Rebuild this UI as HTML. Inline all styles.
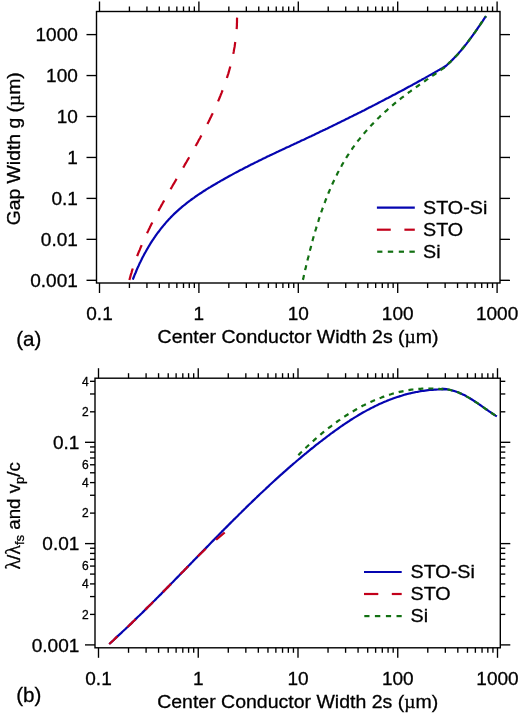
<!DOCTYPE html>
<html><head><meta charset="utf-8"><title>Figure</title>
<style>html,body{margin:0;padding:0;background:#fff;}svg{display:block;}
text{font-family:"Liberation Sans",Arial,sans-serif;fill:#000;stroke:#000;stroke-width:0.3px;}</style></head>
<body><svg width="520" height="713" viewBox="0 0 520 713">
<rect width="520" height="713" fill="#fff"/>
<rect x="96.5" y="11.5" width="403.5" height="271.5" fill="none" stroke="#000" stroke-width="1.4"/>
<line x1="99.5" y1="283" x2="99.5" y2="293" stroke="#000" stroke-width="1.35"/>
<line x1="99.5" y1="11.5" x2="99.5" y2="1.5" stroke="#000" stroke-width="1.35"/>
<line x1="129.42" y1="283" x2="129.42" y2="288" stroke="#000" stroke-width="1.35"/>
<line x1="129.42" y1="11.5" x2="129.42" y2="6.5" stroke="#000" stroke-width="1.35"/>
<line x1="146.93" y1="283" x2="146.93" y2="288" stroke="#000" stroke-width="1.35"/>
<line x1="146.93" y1="11.5" x2="146.93" y2="6.5" stroke="#000" stroke-width="1.35"/>
<line x1="159.34" y1="283" x2="159.34" y2="288" stroke="#000" stroke-width="1.35"/>
<line x1="159.34" y1="11.5" x2="159.34" y2="6.5" stroke="#000" stroke-width="1.35"/>
<line x1="168.98" y1="283" x2="168.98" y2="288" stroke="#000" stroke-width="1.35"/>
<line x1="168.98" y1="11.5" x2="168.98" y2="6.5" stroke="#000" stroke-width="1.35"/>
<line x1="176.85" y1="283" x2="176.85" y2="288" stroke="#000" stroke-width="1.35"/>
<line x1="176.85" y1="11.5" x2="176.85" y2="6.5" stroke="#000" stroke-width="1.35"/>
<line x1="183.5" y1="283" x2="183.5" y2="288" stroke="#000" stroke-width="1.35"/>
<line x1="183.5" y1="11.5" x2="183.5" y2="6.5" stroke="#000" stroke-width="1.35"/>
<line x1="189.27" y1="283" x2="189.27" y2="288" stroke="#000" stroke-width="1.35"/>
<line x1="189.27" y1="11.5" x2="189.27" y2="6.5" stroke="#000" stroke-width="1.35"/>
<line x1="194.35" y1="283" x2="194.35" y2="288" stroke="#000" stroke-width="1.35"/>
<line x1="194.35" y1="11.5" x2="194.35" y2="6.5" stroke="#000" stroke-width="1.35"/>
<line x1="198.9" y1="283" x2="198.9" y2="293" stroke="#000" stroke-width="1.35"/>
<line x1="198.9" y1="11.5" x2="198.9" y2="1.5" stroke="#000" stroke-width="1.35"/>
<line x1="228.82" y1="283" x2="228.82" y2="288" stroke="#000" stroke-width="1.35"/>
<line x1="228.82" y1="11.5" x2="228.82" y2="6.5" stroke="#000" stroke-width="1.35"/>
<line x1="246.33" y1="283" x2="246.33" y2="288" stroke="#000" stroke-width="1.35"/>
<line x1="246.33" y1="11.5" x2="246.33" y2="6.5" stroke="#000" stroke-width="1.35"/>
<line x1="258.74" y1="283" x2="258.74" y2="288" stroke="#000" stroke-width="1.35"/>
<line x1="258.74" y1="11.5" x2="258.74" y2="6.5" stroke="#000" stroke-width="1.35"/>
<line x1="268.38" y1="283" x2="268.38" y2="288" stroke="#000" stroke-width="1.35"/>
<line x1="268.38" y1="11.5" x2="268.38" y2="6.5" stroke="#000" stroke-width="1.35"/>
<line x1="276.25" y1="283" x2="276.25" y2="288" stroke="#000" stroke-width="1.35"/>
<line x1="276.25" y1="11.5" x2="276.25" y2="6.5" stroke="#000" stroke-width="1.35"/>
<line x1="282.9" y1="283" x2="282.9" y2="288" stroke="#000" stroke-width="1.35"/>
<line x1="282.9" y1="11.5" x2="282.9" y2="6.5" stroke="#000" stroke-width="1.35"/>
<line x1="288.67" y1="283" x2="288.67" y2="288" stroke="#000" stroke-width="1.35"/>
<line x1="288.67" y1="11.5" x2="288.67" y2="6.5" stroke="#000" stroke-width="1.35"/>
<line x1="293.75" y1="283" x2="293.75" y2="288" stroke="#000" stroke-width="1.35"/>
<line x1="293.75" y1="11.5" x2="293.75" y2="6.5" stroke="#000" stroke-width="1.35"/>
<line x1="298.3" y1="283" x2="298.3" y2="293" stroke="#000" stroke-width="1.35"/>
<line x1="298.3" y1="11.5" x2="298.3" y2="1.5" stroke="#000" stroke-width="1.35"/>
<line x1="328.22" y1="283" x2="328.22" y2="288" stroke="#000" stroke-width="1.35"/>
<line x1="328.22" y1="11.5" x2="328.22" y2="6.5" stroke="#000" stroke-width="1.35"/>
<line x1="345.73" y1="283" x2="345.73" y2="288" stroke="#000" stroke-width="1.35"/>
<line x1="345.73" y1="11.5" x2="345.73" y2="6.5" stroke="#000" stroke-width="1.35"/>
<line x1="358.14" y1="283" x2="358.14" y2="288" stroke="#000" stroke-width="1.35"/>
<line x1="358.14" y1="11.5" x2="358.14" y2="6.5" stroke="#000" stroke-width="1.35"/>
<line x1="367.78" y1="283" x2="367.78" y2="288" stroke="#000" stroke-width="1.35"/>
<line x1="367.78" y1="11.5" x2="367.78" y2="6.5" stroke="#000" stroke-width="1.35"/>
<line x1="375.65" y1="283" x2="375.65" y2="288" stroke="#000" stroke-width="1.35"/>
<line x1="375.65" y1="11.5" x2="375.65" y2="6.5" stroke="#000" stroke-width="1.35"/>
<line x1="382.3" y1="283" x2="382.3" y2="288" stroke="#000" stroke-width="1.35"/>
<line x1="382.3" y1="11.5" x2="382.3" y2="6.5" stroke="#000" stroke-width="1.35"/>
<line x1="388.07" y1="283" x2="388.07" y2="288" stroke="#000" stroke-width="1.35"/>
<line x1="388.07" y1="11.5" x2="388.07" y2="6.5" stroke="#000" stroke-width="1.35"/>
<line x1="393.15" y1="283" x2="393.15" y2="288" stroke="#000" stroke-width="1.35"/>
<line x1="393.15" y1="11.5" x2="393.15" y2="6.5" stroke="#000" stroke-width="1.35"/>
<line x1="397.7" y1="283" x2="397.7" y2="293" stroke="#000" stroke-width="1.35"/>
<line x1="397.7" y1="11.5" x2="397.7" y2="1.5" stroke="#000" stroke-width="1.35"/>
<line x1="427.62" y1="283" x2="427.62" y2="288" stroke="#000" stroke-width="1.35"/>
<line x1="427.62" y1="11.5" x2="427.62" y2="6.5" stroke="#000" stroke-width="1.35"/>
<line x1="445.13" y1="283" x2="445.13" y2="288" stroke="#000" stroke-width="1.35"/>
<line x1="445.13" y1="11.5" x2="445.13" y2="6.5" stroke="#000" stroke-width="1.35"/>
<line x1="457.54" y1="283" x2="457.54" y2="288" stroke="#000" stroke-width="1.35"/>
<line x1="457.54" y1="11.5" x2="457.54" y2="6.5" stroke="#000" stroke-width="1.35"/>
<line x1="467.18" y1="283" x2="467.18" y2="288" stroke="#000" stroke-width="1.35"/>
<line x1="467.18" y1="11.5" x2="467.18" y2="6.5" stroke="#000" stroke-width="1.35"/>
<line x1="475.05" y1="283" x2="475.05" y2="288" stroke="#000" stroke-width="1.35"/>
<line x1="475.05" y1="11.5" x2="475.05" y2="6.5" stroke="#000" stroke-width="1.35"/>
<line x1="481.7" y1="283" x2="481.7" y2="288" stroke="#000" stroke-width="1.35"/>
<line x1="481.7" y1="11.5" x2="481.7" y2="6.5" stroke="#000" stroke-width="1.35"/>
<line x1="487.47" y1="283" x2="487.47" y2="288" stroke="#000" stroke-width="1.35"/>
<line x1="487.47" y1="11.5" x2="487.47" y2="6.5" stroke="#000" stroke-width="1.35"/>
<line x1="492.55" y1="283" x2="492.55" y2="288" stroke="#000" stroke-width="1.35"/>
<line x1="492.55" y1="11.5" x2="492.55" y2="6.5" stroke="#000" stroke-width="1.35"/>
<line x1="497.1" y1="283" x2="497.1" y2="293" stroke="#000" stroke-width="1.35"/>
<line x1="497.1" y1="11.5" x2="497.1" y2="1.5" stroke="#000" stroke-width="1.35"/>
<text x="99.5" y="320.2" font-size="19" text-anchor="middle">0.1</text>
<text x="198.9" y="320.2" font-size="19" text-anchor="middle">1</text>
<text x="298.3" y="320.2" font-size="19" text-anchor="middle">10</text>
<text x="397.7" y="320.2" font-size="19" text-anchor="middle">100</text>
<text x="497.1" y="320.2" font-size="19" text-anchor="middle">1000</text>
<line x1="86.5" y1="280.3" x2="96.5" y2="280.3" stroke="#000" stroke-width="1.35"/>
<line x1="500" y1="280.3" x2="510" y2="280.3" stroke="#000" stroke-width="1.35"/>
<line x1="86.5" y1="239.35" x2="96.5" y2="239.35" stroke="#000" stroke-width="1.35"/>
<line x1="500" y1="239.35" x2="510" y2="239.35" stroke="#000" stroke-width="1.35"/>
<line x1="86.5" y1="198.4" x2="96.5" y2="198.4" stroke="#000" stroke-width="1.35"/>
<line x1="500" y1="198.4" x2="510" y2="198.4" stroke="#000" stroke-width="1.35"/>
<line x1="86.5" y1="157.45" x2="96.5" y2="157.45" stroke="#000" stroke-width="1.35"/>
<line x1="500" y1="157.45" x2="510" y2="157.45" stroke="#000" stroke-width="1.35"/>
<line x1="86.5" y1="116.5" x2="96.5" y2="116.5" stroke="#000" stroke-width="1.35"/>
<line x1="500" y1="116.5" x2="510" y2="116.5" stroke="#000" stroke-width="1.35"/>
<line x1="86.5" y1="75.55" x2="96.5" y2="75.55" stroke="#000" stroke-width="1.35"/>
<line x1="500" y1="75.55" x2="510" y2="75.55" stroke="#000" stroke-width="1.35"/>
<line x1="86.5" y1="34.6" x2="96.5" y2="34.6" stroke="#000" stroke-width="1.35"/>
<line x1="500" y1="34.6" x2="510" y2="34.6" stroke="#000" stroke-width="1.35"/>
<text x="77.8" y="286.9" font-size="19" text-anchor="end">0.001</text>
<text x="77.8" y="245.95" font-size="19" text-anchor="end">0.01</text>
<text x="77.8" y="205" font-size="19" text-anchor="end">0.1</text>
<text x="77.8" y="164.05" font-size="19" text-anchor="end">1</text>
<text x="77.8" y="123.1" font-size="19" text-anchor="end">10</text>
<text x="77.8" y="82.15" font-size="19" text-anchor="end">100</text>
<text x="77.8" y="41.2" font-size="19" text-anchor="end">1000</text>
<path d="M132.8,279.6 L133.3,278.2 L133.9,276.8 L134.4,275.4 L135.0,274.0 L135.6,272.7 L136.2,271.3 L136.7,269.9 L137.3,268.5 L138.0,267.1 L138.6,265.8 L139.2,264.4 L139.8,263.0 L140.5,261.7 L141.2,260.3 L141.8,259.0 L142.5,257.6 L143.2,256.3 L143.9,254.9 L144.6,253.6 L145.4,252.3 L146.1,251.0 L146.8,249.7 L147.6,248.4 L148.4,247.0 L149.1,245.8 L149.9,244.5 L150.7,243.2 L151.5,241.9 L152.3,240.6 L153.2,239.4 L154.0,238.1 L154.9,236.9 L155.7,235.7 L156.6,234.4 L157.5,233.2 L158.4,232.0 L159.3,230.8 L160.2,229.6 L161.1,228.4 L162.1,227.2 L163.0,226.1 L164.0,224.9 L165.0,223.8 L165.9,222.6 L166.9,221.5 L167.9,220.4 L168.9,219.3 L170.0,218.2 L171.0,217.1 L172.1,216.0 L173.1,215.0 L174.2,213.9 L175.3,212.9 L176.4,211.9 L177.5,210.9 L178.6,209.9 L179.7,208.9 L180.9,207.9 L182.0,206.9 L183.2,206.0 L184.3,205.0 L185.5,204.1 L186.7,203.1 L187.9,202.2 L189.0,201.3 L190.3,200.4 L191.5,199.5 L192.7,198.6 L193.9,197.8 L195.1,196.9 L196.4,196.0 L197.6,195.2 L198.8,194.3 L200.1,193.5 L201.4,192.7 L202.6,191.9 L203.9,191.0 L205.2,190.2 L206.4,189.4 L207.7,188.6 L209.0,187.8 L210.3,187.1 L211.6,186.3 L212.9,185.5 L214.2,184.7 L215.5,184.0 L216.8,183.2 L218.1,182.4 L219.4,181.7 L220.7,180.9 L222.0,180.2 L223.3,179.5 L224.6,178.7 L225.9,178.0 L227.3,177.3 L228.6,176.5 L229.9,175.8 L231.2,175.1 L232.5,174.4 L233.9,173.6 L235.2,172.9 L236.5,172.2 L237.9,171.5 L239.2,170.8 L240.5,170.1 L241.9,169.4 L243.2,168.7 L244.5,168.0 L245.9,167.3 L247.2,166.7 L248.5,166.0 L249.9,165.3 L251.2,164.6 L252.6,163.9 L253.9,163.3 L255.3,162.6 L256.6,161.9 L258.0,161.3 L259.3,160.6 L260.7,159.9 L262.0,159.3 L263.4,158.6 L264.7,158.0 L266.1,157.3 L267.4,156.6 L268.8,156.0 L270.2,155.3 L271.5,154.7 L272.9,154.1 L274.2,153.4 L275.6,152.8 L277.0,152.1 L278.3,151.5 L279.7,150.8 L281.0,150.2 L282.4,149.6 L283.8,148.9 L285.1,148.3 L286.5,147.6 L287.9,147.0 L289.2,146.4 L290.6,145.7 L292.0,145.1 L293.3,144.5 L294.7,143.8 L296.1,143.2 L297.4,142.5 L298.8,141.9 L300.2,141.3 L301.5,140.6 L302.9,140.0 L304.2,139.4 L305.6,138.7 L307.0,138.1 L308.3,137.4 L309.7,136.8 L311.1,136.2 L312.4,135.5 L313.8,134.9 L315.1,134.2 L316.5,133.6 L317.9,132.9 L319.2,132.3 L320.6,131.6 L321.9,131.0 L323.3,130.3 L324.7,129.7 L326.0,129.0 L327.4,128.4 L328.7,127.7 L330.1,127.1 L331.4,126.4 L332.8,125.7 L334.2,125.1 L335.5,124.4 L336.9,123.8 L338.2,123.1 L339.6,122.4 L340.9,121.8 L342.3,121.1 L343.6,120.5 L345.0,119.8 L346.3,119.1 L347.7,118.5 L349.0,117.8 L350.4,117.1 L351.7,116.4 L353.1,115.8 L354.4,115.1 L355.8,114.4 L357.1,113.8 L358.5,113.1 L359.8,112.4 L361.2,111.7 L362.5,111.0 L363.9,110.4 L365.2,109.7 L366.5,109.0 L367.9,108.3 L369.2,107.6 L370.6,106.9 L371.9,106.3 L373.3,105.6 L374.6,104.9 L375.9,104.2 L377.3,103.5 L378.6,102.8 L380.0,102.1 L381.3,101.4 L382.6,100.7 L384.0,100.0 L385.3,99.3 L386.6,98.6 L388.0,97.9 L389.3,97.2 L390.7,96.5 L392.0,95.8 L393.3,95.1 L394.7,94.4 L396.0,93.7 L397.3,93.0 L398.6,92.3 L400.0,91.6 L401.3,90.9 L402.6,90.2 L404.0,89.5 L405.3,88.7 L406.6,88.0 L407.9,87.3 L409.3,86.6 L410.6,85.9 L411.9,85.2 L413.2,84.4 L414.5,83.7 L415.9,83.0 L417.2,82.3 L418.5,81.5 L419.8,80.8 L421.1,80.1 L422.5,79.3 L423.8,78.6 L425.1,77.9 L426.4,77.1 L427.7,76.4 L429.0,75.6 L430.3,74.9 L431.7,74.2 L433.0,73.4 L434.3,72.7 L435.6,71.9 L436.9,71.2 L438.2,70.4 L439.5,69.7 L440.8,68.9 L442.1,68.2 L443.4,67.4 L444.7,66.6 L444.8,66.8 L446.0,65.8 L447.2,64.8 L448.3,63.7 L449.5,62.6 L450.6,61.6 L451.7,60.5 L452.8,59.4 L453.9,58.3 L455.0,57.1 L456.1,56.0 L457.1,54.9 L458.2,53.7 L459.2,52.5 L460.2,51.4 L461.2,50.2 L462.2,49.0 L463.2,47.8 L464.2,46.6 L465.2,45.3 L466.2,44.1 L467.1,42.9 L468.1,41.7 L469.0,40.4 L469.9,39.2 L470.9,37.9 L471.8,36.6 L472.7,35.4 L473.6,34.1 L474.5,32.8 L475.4,31.6 L476.3,30.3 L477.2,29.0 L478.1,27.7 L479.0,26.4 L479.9,25.1 L480.7,23.8 L481.6,22.5 L482.5,21.3 L483.4,20.0 L484.2,18.7 L485.1,17.4 L486.0,16.1" fill="none" stroke="#0505b0" stroke-width="2.2"/>
<path d="M129.4,280.0 L129.8,278.5 L130.2,277.1 L130.6,275.6 L131.0,274.2 L131.5,272.8 L131.9,271.3 L132.3,269.9 L132.8,268.5 L133.3,267.0 L133.8,265.6 L134.2,264.2 L134.7,262.8 L135.2,261.4 L135.8,259.9 L136.3,258.5 L136.8,257.1 L137.3,255.7 L137.9,254.3 L138.4,252.9 L139.0,251.5 L139.6,250.1 L140.1,248.8 L140.7,247.4 L141.3,246.0 L141.9,244.6 L142.5,243.2 L143.1,241.8 L143.7,240.5 L144.3,239.1 L144.9,237.7 L145.6,236.4 L146.2,235.0 L146.9,233.6 L147.5,232.3 L148.2,230.9 L148.8,229.5 L149.5,228.2 L150.1,226.8 L150.8,225.5 L151.5,224.1 L152.2,222.8 L152.9,221.4 L153.6,220.1 L154.3,218.7 L155.0,217.4 L155.7,216.1 L156.4,214.7 L157.1,213.4 L157.8,212.0 L158.5,210.7 L159.2,209.4 L160.0,208.0 L160.7,206.7 L161.4,205.4 L162.2,204.0 L162.9,202.7 L163.7,201.4 L164.4,200.1 L165.1,198.7 L165.9,197.4 L166.6,196.1 L167.4,194.8 L168.2,193.4 L168.9,192.1 L169.7,190.8 L170.4,189.5 L171.2,188.2 L172.0,186.8 L172.7,185.5 L173.5,184.2 L174.3,182.9 L175.0,181.6 L175.8,180.2 L176.6,178.9 L177.3,177.6 L178.1,176.3 L178.9,175.0 L179.6,173.7 L180.4,172.3 L181.2,171.0 L182.0,169.7 L182.7,168.4 L183.5,167.1 L184.3,165.8 L185.0,164.4 L185.8,163.1 L186.6,161.8 L187.3,160.5 L188.1,159.2 L188.9,157.8 L189.6,156.5 L190.4,155.2 L191.1,153.9 L191.9,152.6 L192.7,151.2 L193.4,149.9 L194.2,148.6 L194.9,147.3 L195.6,145.9 L196.4,144.6 L197.1,143.3 L197.9,142.0 L198.6,140.6 L199.3,139.3 L200.1,138.0 L200.8,136.6 L201.5,135.3 L202.2,134.0 L202.9,132.6 L203.6,131.3 L204.4,130.0 L205.1,128.6 L205.8,127.3 L206.4,125.9 L207.1,124.6 L207.8,123.2 L208.5,121.9 L209.2,120.6 L209.8,119.2 L210.5,117.8 L211.2,116.5 L211.8,115.1 L212.5,113.8 L213.1,112.4 L213.8,111.1 L214.4,109.7 L215.0,108.3 L215.6,107.0 L216.2,105.6 L216.9,104.2 L217.5,102.8 L218.0,101.5 L218.6,100.1 L219.2,98.7 L219.8,97.3 L220.4,95.9 L220.9,94.5 L221.5,93.1 L222.0,91.7 L222.6,90.3 L223.1,88.9 L223.6,87.5 L224.1,86.1 L224.6,84.7 L225.1,83.3 L225.6,81.9 L226.1,80.5 L226.6,79.1 L227.0,77.6 L227.5,76.2 L227.9,74.8 L228.4,73.3 L228.8,71.9 L229.2,70.5 L229.6,69.0 L230.0,67.6 L230.4,66.1 L230.8,64.7 L231.2,63.2 L231.5,61.7 L231.9,60.3 L232.2,58.8 L232.5,57.3 L232.9,55.9 L233.2,54.4 L233.5,52.9 L233.8,51.4 L234.0,49.9 L234.3,48.4 L234.6,46.9 L234.8,45.4 L235.0,43.9 L235.2,42.4 L235.5,40.9 L235.6,39.4 L235.8,37.9 L236.0,36.3 L236.2,34.8 L236.3,33.3 L236.4,31.7 L236.6,30.2 L236.7,28.6 L236.8,27.1 L236.9,25.5 L236.9,23.9 L237.0,22.4 L237.0,20.8 L237.0,19.2 L237.1,17.6" fill="none" stroke="#c2001a" stroke-width="2.2" stroke-dasharray="12 13"/>
<path d="M302.9,279.9 L303.3,278.4 L303.6,277.0 L303.9,275.6 L304.2,274.2 L304.6,272.7 L304.9,271.3 L305.2,269.8 L305.6,268.4 L305.9,267.0 L306.2,265.5 L306.6,264.1 L306.9,262.6 L307.3,261.2 L307.6,259.7 L308.0,258.3 L308.4,256.8 L308.7,255.4 L309.1,253.9 L309.4,252.4 L309.8,251.0 L310.2,249.5 L310.6,248.1 L311.0,246.6 L311.3,245.1 L311.7,243.7 L312.1,242.2 L312.5,240.8 L312.9,239.3 L313.3,237.8 L313.7,236.4 L314.2,234.9 L314.6,233.5 L315.0,232.0 L315.4,230.5 L315.9,229.1 L316.3,227.6 L316.7,226.2 L317.2,224.7 L317.6,223.3 L318.1,221.8 L318.6,220.4 L319.0,218.9 L319.5,217.5 L320.0,216.0 L320.5,214.6 L320.9,213.1 L321.4,211.7 L321.9,210.3 L322.4,208.8 L323.0,207.4 L323.5,205.9 L324.0,204.5 L324.5,203.1 L325.1,201.7 L325.6,200.2 L326.2,198.8 L326.7,197.4 L327.3,196.0 L327.8,194.6 L328.4,193.2 L329.0,191.8 L329.6,190.4 L330.2,189.0 L330.8,187.6 L331.4,186.2 L332.0,184.8 L332.6,183.5 L333.3,182.1 L333.9,180.7 L334.6,179.3 L335.2,178.0 L335.9,176.6 L336.6,175.3 L337.2,173.9 L337.9,172.6 L338.6,171.3 L339.3,169.9 L340.0,168.6 L340.8,167.3 L341.5,166.0 L342.2,164.6 L343.0,163.3 L343.7,162.0 L344.5,160.7 L345.3,159.5 L346.0,158.2 L346.8,156.9 L347.6,155.6 L348.4,154.4 L349.2,153.1 L350.1,151.9 L350.9,150.6 L351.8,149.4 L352.6,148.1 L353.5,146.9 L354.4,145.7 L355.2,144.5 L356.1,143.3 L357.0,142.1 L357.9,140.9 L358.9,139.7 L359.8,138.6 L360.7,137.4 L361.7,136.2 L362.6,135.1 L363.6,133.9 L364.6,132.8 L365.6,131.6 L366.6,130.5 L367.5,129.4 L368.6,128.3 L369.6,127.2 L370.6,126.1 L371.6,125.0 L372.7,123.9 L373.7,122.8 L374.8,121.7 L375.8,120.7 L376.9,119.6 L377.9,118.5 L379.0,117.5 L380.1,116.4 L381.2,115.4 L382.3,114.4 L383.4,113.3 L384.5,112.3 L385.6,111.3 L386.8,110.3 L387.9,109.3 L389.0,108.3 L390.2,107.3 L391.3,106.3 L392.5,105.3 L393.6,104.4 L394.8,103.4 L396.0,102.4 L397.1,101.5 L398.3,100.5 L399.5,99.6 L400.7,98.6 L401.9,97.7 L403.1,96.8 L404.3,95.9 L405.5,94.9 L406.7,94.0 L407.9,93.1 L409.1,92.2 L410.4,91.3 L411.6,90.4 L412.8,89.5 L414.1,88.6 L415.3,87.8 L416.5,86.9 L417.8,86.0 L419.0,85.1 L420.2,84.3 L421.5,83.4 L422.7,82.5 L424.0,81.7 L425.2,80.8 L426.4,79.9 L427.7,79.1 L428.9,78.2 L430.2,77.4 L431.4,76.5 L432.7,75.7 L433.9,74.8 L435.1,74.0 L436.4,73.1 L437.6,72.3 L438.8,71.4 L440.1,70.5 L441.3,69.7 L442.5,68.8 L443.7,68.0 L445.0,67.1 L444.8,66.8 L446.0,65.8 L447.2,64.8 L448.3,63.7 L449.5,62.6 L450.6,61.6 L451.7,60.5 L452.8,59.4 L453.9,58.3 L455.0,57.1 L456.1,56.0 L457.1,54.9 L458.2,53.7 L459.2,52.5 L460.2,51.4 L461.2,50.2 L462.2,49.0 L463.2,47.8 L464.2,46.6 L465.2,45.3 L466.2,44.1 L467.1,42.9 L468.1,41.7 L469.0,40.4 L469.9,39.2 L470.9,37.9 L471.8,36.6 L472.7,35.4 L473.6,34.1 L474.5,32.8 L475.4,31.6 L476.3,30.3 L477.2,29.0 L478.1,27.7 L479.0,26.4 L479.9,25.1 L480.7,23.8 L481.6,22.5 L482.5,21.3 L483.4,20.0 L484.2,18.7 L485.1,17.4 L486.0,16.1" fill="none" stroke="#127012" stroke-width="2.2" stroke-dasharray="5 5"/>
<line x1="376.9" y1="207.6" x2="414.8" y2="207.6" stroke="#0505b0" stroke-width="2.2"/>
<line x1="376.9" y1="229.7" x2="390.75" y2="229.7" stroke="#c2001a" stroke-width="2.2"/>
<line x1="404.4" y1="229.7" x2="414.8" y2="229.7" stroke="#c2001a" stroke-width="2.2"/>
<line x1="377.2" y1="251.7" x2="382.4" y2="251.7" stroke="#127012" stroke-width="2.2"/>
<line x1="387.8" y1="251.7" x2="393.2" y2="251.7" stroke="#127012" stroke-width="2.2"/>
<line x1="398.8" y1="251.7" x2="404" y2="251.7" stroke="#127012" stroke-width="2.2"/>
<line x1="409.4" y1="251.7" x2="414.8" y2="251.7" stroke="#127012" stroke-width="2.2"/>
<text x="423" y="213.6" font-size="18.8" text-anchor="start" textLength="64.35" lengthAdjust="spacingAndGlyphs">STO-Si</text>
<text x="423" y="235.6" font-size="18.8" text-anchor="start" textLength="40.22" lengthAdjust="spacingAndGlyphs">STO</text>
<text x="423" y="257.6" font-size="18.8" text-anchor="start" textLength="17.55" lengthAdjust="spacingAndGlyphs">Si</text>
<text x="157.6" y="343.1" font-size="18.7" text-anchor="start" textLength="281" lengthAdjust="spacingAndGlyphs">Center Conductor Width 2s (<tspan font-family="Liberation Serif">µ</tspan>m)</text>
<text transform="translate(19.6,225.3) rotate(-90)" font-size="18.7" textLength="153" lengthAdjust="spacingAndGlyphs">Gap Width g (<tspan font-family="Liberation Serif">µ</tspan>m)</text>
<text x="16.2" y="345.6" font-size="20.6" text-anchor="start">(a)</text>
<rect x="95" y="378.2" width="405.3" height="269.6" fill="none" stroke="#000" stroke-width="1.4"/>
<line x1="98.5" y1="647.8" x2="98.5" y2="657.8" stroke="#000" stroke-width="1.35"/>
<line x1="98.5" y1="378.2" x2="98.5" y2="368.2" stroke="#000" stroke-width="1.35"/>
<line x1="128.53" y1="647.8" x2="128.53" y2="652.8" stroke="#000" stroke-width="1.35"/>
<line x1="128.53" y1="378.2" x2="128.53" y2="373.2" stroke="#000" stroke-width="1.35"/>
<line x1="146.09" y1="647.8" x2="146.09" y2="652.8" stroke="#000" stroke-width="1.35"/>
<line x1="146.09" y1="378.2" x2="146.09" y2="373.2" stroke="#000" stroke-width="1.35"/>
<line x1="158.56" y1="647.8" x2="158.56" y2="652.8" stroke="#000" stroke-width="1.35"/>
<line x1="158.56" y1="378.2" x2="158.56" y2="373.2" stroke="#000" stroke-width="1.35"/>
<line x1="168.22" y1="647.8" x2="168.22" y2="652.8" stroke="#000" stroke-width="1.35"/>
<line x1="168.22" y1="378.2" x2="168.22" y2="373.2" stroke="#000" stroke-width="1.35"/>
<line x1="176.12" y1="647.8" x2="176.12" y2="652.8" stroke="#000" stroke-width="1.35"/>
<line x1="176.12" y1="378.2" x2="176.12" y2="373.2" stroke="#000" stroke-width="1.35"/>
<line x1="182.8" y1="647.8" x2="182.8" y2="652.8" stroke="#000" stroke-width="1.35"/>
<line x1="182.8" y1="378.2" x2="182.8" y2="373.2" stroke="#000" stroke-width="1.35"/>
<line x1="188.58" y1="647.8" x2="188.58" y2="652.8" stroke="#000" stroke-width="1.35"/>
<line x1="188.58" y1="378.2" x2="188.58" y2="373.2" stroke="#000" stroke-width="1.35"/>
<line x1="193.69" y1="647.8" x2="193.69" y2="652.8" stroke="#000" stroke-width="1.35"/>
<line x1="193.69" y1="378.2" x2="193.69" y2="373.2" stroke="#000" stroke-width="1.35"/>
<line x1="198.25" y1="647.8" x2="198.25" y2="657.8" stroke="#000" stroke-width="1.35"/>
<line x1="198.25" y1="378.2" x2="198.25" y2="368.2" stroke="#000" stroke-width="1.35"/>
<line x1="228.28" y1="647.8" x2="228.28" y2="652.8" stroke="#000" stroke-width="1.35"/>
<line x1="228.28" y1="378.2" x2="228.28" y2="373.2" stroke="#000" stroke-width="1.35"/>
<line x1="245.84" y1="647.8" x2="245.84" y2="652.8" stroke="#000" stroke-width="1.35"/>
<line x1="245.84" y1="378.2" x2="245.84" y2="373.2" stroke="#000" stroke-width="1.35"/>
<line x1="258.31" y1="647.8" x2="258.31" y2="652.8" stroke="#000" stroke-width="1.35"/>
<line x1="258.31" y1="378.2" x2="258.31" y2="373.2" stroke="#000" stroke-width="1.35"/>
<line x1="267.97" y1="647.8" x2="267.97" y2="652.8" stroke="#000" stroke-width="1.35"/>
<line x1="267.97" y1="378.2" x2="267.97" y2="373.2" stroke="#000" stroke-width="1.35"/>
<line x1="275.87" y1="647.8" x2="275.87" y2="652.8" stroke="#000" stroke-width="1.35"/>
<line x1="275.87" y1="378.2" x2="275.87" y2="373.2" stroke="#000" stroke-width="1.35"/>
<line x1="282.55" y1="647.8" x2="282.55" y2="652.8" stroke="#000" stroke-width="1.35"/>
<line x1="282.55" y1="378.2" x2="282.55" y2="373.2" stroke="#000" stroke-width="1.35"/>
<line x1="288.33" y1="647.8" x2="288.33" y2="652.8" stroke="#000" stroke-width="1.35"/>
<line x1="288.33" y1="378.2" x2="288.33" y2="373.2" stroke="#000" stroke-width="1.35"/>
<line x1="293.44" y1="647.8" x2="293.44" y2="652.8" stroke="#000" stroke-width="1.35"/>
<line x1="293.44" y1="378.2" x2="293.44" y2="373.2" stroke="#000" stroke-width="1.35"/>
<line x1="298" y1="647.8" x2="298" y2="657.8" stroke="#000" stroke-width="1.35"/>
<line x1="298" y1="378.2" x2="298" y2="368.2" stroke="#000" stroke-width="1.35"/>
<line x1="328.03" y1="647.8" x2="328.03" y2="652.8" stroke="#000" stroke-width="1.35"/>
<line x1="328.03" y1="378.2" x2="328.03" y2="373.2" stroke="#000" stroke-width="1.35"/>
<line x1="345.59" y1="647.8" x2="345.59" y2="652.8" stroke="#000" stroke-width="1.35"/>
<line x1="345.59" y1="378.2" x2="345.59" y2="373.2" stroke="#000" stroke-width="1.35"/>
<line x1="358.06" y1="647.8" x2="358.06" y2="652.8" stroke="#000" stroke-width="1.35"/>
<line x1="358.06" y1="378.2" x2="358.06" y2="373.2" stroke="#000" stroke-width="1.35"/>
<line x1="367.72" y1="647.8" x2="367.72" y2="652.8" stroke="#000" stroke-width="1.35"/>
<line x1="367.72" y1="378.2" x2="367.72" y2="373.2" stroke="#000" stroke-width="1.35"/>
<line x1="375.62" y1="647.8" x2="375.62" y2="652.8" stroke="#000" stroke-width="1.35"/>
<line x1="375.62" y1="378.2" x2="375.62" y2="373.2" stroke="#000" stroke-width="1.35"/>
<line x1="382.3" y1="647.8" x2="382.3" y2="652.8" stroke="#000" stroke-width="1.35"/>
<line x1="382.3" y1="378.2" x2="382.3" y2="373.2" stroke="#000" stroke-width="1.35"/>
<line x1="388.08" y1="647.8" x2="388.08" y2="652.8" stroke="#000" stroke-width="1.35"/>
<line x1="388.08" y1="378.2" x2="388.08" y2="373.2" stroke="#000" stroke-width="1.35"/>
<line x1="393.19" y1="647.8" x2="393.19" y2="652.8" stroke="#000" stroke-width="1.35"/>
<line x1="393.19" y1="378.2" x2="393.19" y2="373.2" stroke="#000" stroke-width="1.35"/>
<line x1="397.75" y1="647.8" x2="397.75" y2="657.8" stroke="#000" stroke-width="1.35"/>
<line x1="397.75" y1="378.2" x2="397.75" y2="368.2" stroke="#000" stroke-width="1.35"/>
<line x1="427.78" y1="647.8" x2="427.78" y2="652.8" stroke="#000" stroke-width="1.35"/>
<line x1="427.78" y1="378.2" x2="427.78" y2="373.2" stroke="#000" stroke-width="1.35"/>
<line x1="445.34" y1="647.8" x2="445.34" y2="652.8" stroke="#000" stroke-width="1.35"/>
<line x1="445.34" y1="378.2" x2="445.34" y2="373.2" stroke="#000" stroke-width="1.35"/>
<line x1="457.81" y1="647.8" x2="457.81" y2="652.8" stroke="#000" stroke-width="1.35"/>
<line x1="457.81" y1="378.2" x2="457.81" y2="373.2" stroke="#000" stroke-width="1.35"/>
<line x1="467.47" y1="647.8" x2="467.47" y2="652.8" stroke="#000" stroke-width="1.35"/>
<line x1="467.47" y1="378.2" x2="467.47" y2="373.2" stroke="#000" stroke-width="1.35"/>
<line x1="475.37" y1="647.8" x2="475.37" y2="652.8" stroke="#000" stroke-width="1.35"/>
<line x1="475.37" y1="378.2" x2="475.37" y2="373.2" stroke="#000" stroke-width="1.35"/>
<line x1="482.05" y1="647.8" x2="482.05" y2="652.8" stroke="#000" stroke-width="1.35"/>
<line x1="482.05" y1="378.2" x2="482.05" y2="373.2" stroke="#000" stroke-width="1.35"/>
<line x1="487.83" y1="647.8" x2="487.83" y2="652.8" stroke="#000" stroke-width="1.35"/>
<line x1="487.83" y1="378.2" x2="487.83" y2="373.2" stroke="#000" stroke-width="1.35"/>
<line x1="492.94" y1="647.8" x2="492.94" y2="652.8" stroke="#000" stroke-width="1.35"/>
<line x1="492.94" y1="378.2" x2="492.94" y2="373.2" stroke="#000" stroke-width="1.35"/>
<line x1="497.5" y1="647.8" x2="497.5" y2="657.8" stroke="#000" stroke-width="1.35"/>
<line x1="497.5" y1="378.2" x2="497.5" y2="368.2" stroke="#000" stroke-width="1.35"/>
<text x="98.5" y="684.7" font-size="19" text-anchor="middle">0.1</text>
<text x="198.25" y="684.7" font-size="19" text-anchor="middle">1</text>
<text x="298" y="684.7" font-size="19" text-anchor="middle">10</text>
<text x="397.75" y="684.7" font-size="19" text-anchor="middle">100</text>
<text x="497.5" y="684.7" font-size="19" text-anchor="middle">1000</text>
<line x1="85" y1="644.9" x2="95" y2="644.9" stroke="#000" stroke-width="1.35"/>
<line x1="500.3" y1="644.9" x2="510.3" y2="644.9" stroke="#000" stroke-width="1.35"/>
<line x1="85" y1="543.6" x2="95" y2="543.6" stroke="#000" stroke-width="1.35"/>
<line x1="500.3" y1="543.6" x2="510.3" y2="543.6" stroke="#000" stroke-width="1.35"/>
<line x1="85" y1="442.3" x2="95" y2="442.3" stroke="#000" stroke-width="1.35"/>
<line x1="500.3" y1="442.3" x2="510.3" y2="442.3" stroke="#000" stroke-width="1.35"/>
<line x1="90" y1="614.41" x2="95" y2="614.41" stroke="#000" stroke-width="1.35"/>
<line x1="500.3" y1="614.41" x2="505.3" y2="614.41" stroke="#000" stroke-width="1.35"/>
<line x1="90" y1="596.57" x2="95" y2="596.57" stroke="#000" stroke-width="1.35"/>
<line x1="500.3" y1="596.57" x2="505.3" y2="596.57" stroke="#000" stroke-width="1.35"/>
<line x1="90" y1="583.91" x2="95" y2="583.91" stroke="#000" stroke-width="1.35"/>
<line x1="500.3" y1="583.91" x2="505.3" y2="583.91" stroke="#000" stroke-width="1.35"/>
<line x1="90" y1="574.09" x2="95" y2="574.09" stroke="#000" stroke-width="1.35"/>
<line x1="500.3" y1="574.09" x2="505.3" y2="574.09" stroke="#000" stroke-width="1.35"/>
<line x1="90" y1="566.07" x2="95" y2="566.07" stroke="#000" stroke-width="1.35"/>
<line x1="500.3" y1="566.07" x2="505.3" y2="566.07" stroke="#000" stroke-width="1.35"/>
<line x1="90" y1="559.29" x2="95" y2="559.29" stroke="#000" stroke-width="1.35"/>
<line x1="500.3" y1="559.29" x2="505.3" y2="559.29" stroke="#000" stroke-width="1.35"/>
<line x1="90" y1="553.42" x2="95" y2="553.42" stroke="#000" stroke-width="1.35"/>
<line x1="500.3" y1="553.42" x2="505.3" y2="553.42" stroke="#000" stroke-width="1.35"/>
<line x1="90" y1="548.24" x2="95" y2="548.24" stroke="#000" stroke-width="1.35"/>
<line x1="500.3" y1="548.24" x2="505.3" y2="548.24" stroke="#000" stroke-width="1.35"/>
<line x1="90" y1="513.11" x2="95" y2="513.11" stroke="#000" stroke-width="1.35"/>
<line x1="500.3" y1="513.11" x2="505.3" y2="513.11" stroke="#000" stroke-width="1.35"/>
<line x1="90" y1="495.27" x2="95" y2="495.27" stroke="#000" stroke-width="1.35"/>
<line x1="500.3" y1="495.27" x2="505.3" y2="495.27" stroke="#000" stroke-width="1.35"/>
<line x1="90" y1="482.61" x2="95" y2="482.61" stroke="#000" stroke-width="1.35"/>
<line x1="500.3" y1="482.61" x2="505.3" y2="482.61" stroke="#000" stroke-width="1.35"/>
<line x1="90" y1="472.79" x2="95" y2="472.79" stroke="#000" stroke-width="1.35"/>
<line x1="500.3" y1="472.79" x2="505.3" y2="472.79" stroke="#000" stroke-width="1.35"/>
<line x1="90" y1="464.77" x2="95" y2="464.77" stroke="#000" stroke-width="1.35"/>
<line x1="500.3" y1="464.77" x2="505.3" y2="464.77" stroke="#000" stroke-width="1.35"/>
<line x1="90" y1="457.99" x2="95" y2="457.99" stroke="#000" stroke-width="1.35"/>
<line x1="500.3" y1="457.99" x2="505.3" y2="457.99" stroke="#000" stroke-width="1.35"/>
<line x1="90" y1="452.12" x2="95" y2="452.12" stroke="#000" stroke-width="1.35"/>
<line x1="500.3" y1="452.12" x2="505.3" y2="452.12" stroke="#000" stroke-width="1.35"/>
<line x1="90" y1="446.94" x2="95" y2="446.94" stroke="#000" stroke-width="1.35"/>
<line x1="500.3" y1="446.94" x2="505.3" y2="446.94" stroke="#000" stroke-width="1.35"/>
<line x1="90" y1="411.81" x2="95" y2="411.81" stroke="#000" stroke-width="1.35"/>
<line x1="500.3" y1="411.81" x2="505.3" y2="411.81" stroke="#000" stroke-width="1.35"/>
<line x1="90" y1="393.97" x2="95" y2="393.97" stroke="#000" stroke-width="1.35"/>
<line x1="500.3" y1="393.97" x2="505.3" y2="393.97" stroke="#000" stroke-width="1.35"/>
<line x1="90" y1="381.31" x2="95" y2="381.31" stroke="#000" stroke-width="1.35"/>
<line x1="500.3" y1="381.31" x2="505.3" y2="381.31" stroke="#000" stroke-width="1.35"/>
<text x="79.3" y="651.5" font-size="19" text-anchor="end">0.001</text>
<text x="79.3" y="550.2" font-size="19" text-anchor="end">0.01</text>
<text x="79.3" y="448.9" font-size="19" text-anchor="end">0.1</text>
<text x="88.6" y="618.71" font-size="12" text-anchor="end">2</text>
<text x="88.6" y="588.21" font-size="12" text-anchor="end">4</text>
<text x="88.6" y="570.37" font-size="12" text-anchor="end">6</text>
<text x="88.6" y="517.41" font-size="12" text-anchor="end">2</text>
<text x="88.6" y="486.91" font-size="12" text-anchor="end">4</text>
<text x="88.6" y="469.07" font-size="12" text-anchor="end">6</text>
<text x="88.6" y="416.11" font-size="12" text-anchor="end">2</text>
<text x="88.6" y="385.61" font-size="12" text-anchor="end">4</text>
<path d="M109.2,644.0 L110.4,643.0 L111.5,642.0 L112.6,641.0 L113.7,640.0 L114.7,639.0 L115.8,637.9 L116.9,636.9 L118.0,635.9 L119.1,634.9 L120.2,633.9 L121.3,632.9 L122.4,631.8 L123.5,630.8 L124.6,629.8 L125.7,628.8 L126.7,627.7 L127.8,626.7 L128.9,625.7 L130.0,624.6 L131.1,623.6 L132.1,622.6 L133.2,621.5 L134.3,620.5 L135.4,619.4 L136.4,618.4 L137.5,617.3 L138.6,616.3 L139.7,615.3 L140.7,614.2 L141.8,613.2 L142.9,612.1 L143.9,611.1 L145.0,610.0 L146.1,608.9 L147.1,607.9 L148.2,606.8 L149.3,605.8 L150.3,604.7 L151.4,603.7 L152.5,602.6 L153.5,601.5 L154.6,600.5 L155.7,599.4 L156.7,598.3 L157.8,597.3 L158.8,596.2 L159.9,595.1 L161.0,594.1 L162.0,593.0 L163.1,591.9 L164.1,590.9 L165.2,589.8 L166.2,588.7 L167.3,587.6 L168.3,586.6 L169.4,585.5 L170.5,584.4 L171.5,583.3 L172.6,582.3 L173.6,581.2 L174.7,580.1 L175.7,579.0 L176.8,577.9 L177.8,576.9 L178.9,575.8 L179.9,574.7 L181.0,573.6 L182.0,572.5 L183.1,571.5 L184.1,570.4 L185.2,569.3 L186.3,568.2 L187.3,567.1 L188.4,566.0 L189.4,565.0 L190.5,563.9 L191.5,562.8 L192.6,561.7 L193.6,560.6 L194.7,559.5 L195.7,558.5 L196.8,557.4 L197.8,556.3 L198.9,555.2 L199.9,554.1 L201.0,553.0 L202.0,552.0 L203.1,550.9 L204.1,549.8 L205.2,548.7 L206.3,547.6 L207.3,546.6 L208.4,545.5 L209.4,544.4 L210.5,543.3 L211.5,542.2 L212.6,541.1 L213.6,540.1 L214.7,539.0 L215.8,537.9 L216.8,536.8 L217.9,535.8 L218.9,534.7 L220.0,533.6 L221.1,532.5 L222.1,531.4 L223.2,530.4 L224.2,529.3 L225.3,528.2 L226.4,527.1 L227.4,526.1 L228.5,525.0 L229.6,523.9 L230.6,522.9 L231.7,521.8 L232.8,520.7 L233.8,519.6 L234.9,518.6 L236.0,517.5 L237.1,516.5 L238.1,515.4 L239.2,514.3 L240.3,513.3 L241.4,512.2 L242.4,511.1 L243.5,510.1 L244.6,509.0 L245.7,508.0 L246.7,506.9 L247.8,505.9 L248.9,504.8 L250.0,503.7 L251.1,502.7 L252.2,501.6 L253.2,500.6 L254.3,499.6 L255.4,498.5 L256.5,497.5 L257.6,496.4 L258.7,495.4 L259.8,494.3 L260.9,493.3 L262.0,492.3 L263.1,491.2 L264.2,490.2 L265.3,489.2 L266.4,488.1 L267.5,487.1 L268.6,486.1 L269.7,485.0 L270.8,484.0 L271.9,483.0 L273.0,482.0 L274.1,481.0 L275.3,479.9 L276.4,478.9 L277.5,477.9 L278.6,476.9 L279.7,475.9 L280.8,474.9 L282.0,473.9 L283.1,472.9 L284.2,471.9 L285.4,470.9 L286.5,469.9 L287.6,468.9 L288.7,467.9 L289.9,466.9 L291.0,465.9 L292.2,464.9 L293.3,463.9 L294.4,463.0 L295.6,462.0 L296.7,461.0 L297.9,460.0 L299.0,459.0 L300.2,458.1 L301.3,457.1 L302.5,456.1 L303.7,455.2 L304.8,454.2 L306.0,453.3 L307.1,452.3 L308.3,451.3 L309.5,450.4 L310.6,449.4 L311.8,448.5 L313.0,447.6 L314.2,446.6 L315.3,445.7 L316.5,444.7 L317.7,443.8 L318.9,442.9 L320.1,442.0 L321.3,441.0 L322.5,440.1 L323.7,439.2 L324.9,438.3 L326.1,437.4 L327.3,436.5 L328.5,435.5 L329.7,434.6 L330.9,433.7 L332.1,432.9 L333.3,432.0 L334.5,431.1 L335.8,430.2 L337.0,429.3 L338.2,428.5 L339.4,427.6 L340.7,426.7 L341.9,425.9 L343.1,425.0 L344.4,424.2 L345.6,423.3 L346.9,422.5 L348.1,421.7 L349.4,420.9 L350.6,420.0 L351.9,419.2 L353.2,418.4 L354.4,417.6 L355.7,416.9 L357.0,416.1 L358.3,415.3 L359.6,414.5 L360.8,413.8 L362.1,413.0 L363.4,412.3 L364.7,411.6 L366.0,410.9 L367.3,410.1 L368.7,409.4 L370.0,408.7 L371.3,408.1 L372.6,407.4 L374.0,406.7 L375.3,406.1 L376.6,405.4 L378.0,404.8 L379.3,404.1 L380.7,403.5 L382.0,402.9 L383.4,402.3 L384.7,401.7 L386.1,401.2 L387.5,400.6 L388.9,400.1 L390.3,399.5 L391.7,399.0 L393.0,398.5 L394.4,398.0 L395.9,397.5 L397.3,397.0 L398.7,396.6 L400.1,396.1 L401.5,395.7 L403.0,395.2 L404.4,394.8 L405.8,394.4 L407.3,394.0 L408.7,393.7 L410.2,393.3 L411.7,393.0 L413.1,392.7 L414.6,392.3 L416.1,392.0 L417.6,391.8 L419.1,391.5 L420.6,391.2 L422.1,391.0 L423.6,390.8 L425.1,390.6 L426.7,390.4 L428.2,390.2 L429.7,390.0 L431.3,389.9 L432.8,389.8 L434.4,389.7 L435.9,389.6 L437.5,389.5 L439.1,389.4 L440.7,389.4 L442.3,389.4 L443.9,389.4 L445.5,389.4 L445.0,389.0 L446.5,389.2 L448.1,389.5 L449.7,389.8 L451.2,390.2 L452.7,390.6 L454.2,391.0 L455.7,391.5 L457.1,392.0 L458.6,392.6 L460.0,393.2 L461.4,393.8 L462.8,394.4 L464.2,395.1 L465.6,395.8 L466.9,396.6 L468.3,397.4 L469.6,398.1 L471.0,399.0 L472.3,399.8 L473.6,400.6 L474.9,401.5 L476.2,402.3 L477.5,403.2 L478.8,404.1 L480.1,405.0 L481.4,405.9 L482.7,406.8 L483.9,407.7 L485.2,408.6 L486.5,409.5 L487.8,410.4 L489.1,411.3 L490.4,412.2 L491.6,413.0 L492.9,413.9 L494.2,414.7 L495.5,415.6 L496.9,416.4" fill="none" stroke="#0505b0" stroke-width="2.2"/>
<path d="M109.2,644.0 L110.4,643.0 L111.5,642.0 L112.6,641.0 L113.7,640.0 L114.7,639.0 L115.8,637.9 L116.9,636.9 L118.0,635.9 L119.1,634.9 L120.2,633.9 L121.3,632.9 L122.4,631.8 L123.5,630.8 L124.6,629.8 L125.7,628.8 L126.7,627.7 L127.8,626.7 L128.9,625.7 L130.0,624.6 L131.1,623.6 L132.1,622.6 L133.2,621.5 L134.3,620.5 L135.4,619.4 L136.4,618.4 L137.5,617.3 L138.6,616.3 L139.7,615.3 L140.7,614.2 L141.8,613.2 L142.9,612.1 L143.9,611.1 L145.0,610.0 L146.1,608.9 L147.1,607.9 L148.2,606.8 L149.3,605.8 L150.3,604.7 L151.4,603.7 L152.5,602.6 L153.5,601.5 L154.6,600.5 L155.7,599.4 L156.7,598.3 L157.8,597.3 L158.8,596.2 L159.9,595.1 L161.0,594.1 L162.0,593.0 L163.1,591.9 L164.1,590.9 L165.2,589.8 L166.2,588.7 L167.3,587.6 L168.3,586.6 L169.4,585.5 L170.5,584.4 L171.5,583.3 L172.6,582.3 L173.6,581.2 L174.7,580.1 L175.7,579.0 L176.8,577.9 L177.8,576.9 L178.9,575.8 L179.9,574.7 L181.0,573.6 L182.0,572.5 L183.1,571.5 L184.1,570.4 L185.2,569.3 L186.3,568.2 L187.3,567.1 L188.4,566.0 L189.4,565.0 L190.5,563.9 L191.5,562.8 L192.6,561.7 L193.6,560.6 L194.7,559.5 L195.7,558.5 L198.7,555.5 L206.2,548.3 L211.0,544.5 L216.2,539.6 L225.0,532.3" fill="none" stroke="#c2001a" stroke-width="2.2" stroke-dasharray="11.3 13.6"/>
<path d="M298.3,455.1 L299.4,454.1 L300.4,453.0 L301.5,452.0 L302.6,450.9 L303.6,449.9 L304.7,448.8 L305.8,447.8 L306.9,446.8 L308.0,445.7 L309.1,444.7 L310.2,443.7 L311.3,442.6 L312.4,441.6 L313.6,440.6 L314.7,439.6 L315.8,438.6 L317.0,437.6 L318.1,436.6 L319.3,435.6 L320.5,434.6 L321.6,433.7 L322.8,432.7 L324.0,431.7 L325.2,430.8 L326.4,429.8 L327.5,428.9 L328.7,427.9 L330.0,427.0 L331.2,426.1 L332.4,425.1 L333.6,424.2 L334.8,423.3 L336.1,422.4 L337.3,421.5 L338.5,420.7 L339.8,419.8 L341.0,418.9 L342.3,418.1 L343.6,417.2 L344.8,416.4 L346.1,415.5 L347.4,414.7 L348.7,413.9 L350.0,413.1 L351.3,412.3 L352.6,411.5 L353.9,410.8 L355.2,410.0 L356.5,409.2 L357.8,408.5 L359.1,407.8 L360.5,407.1 L361.8,406.3 L363.1,405.6 L364.5,405.0 L365.8,404.3 L367.2,403.6 L368.6,403.0 L369.9,402.3 L371.3,401.7 L372.7,401.1 L374.0,400.5 L375.4,399.9 L376.8,399.3 L378.2,398.7 L379.6,398.2 L381.0,397.7 L382.4,397.1 L383.8,396.6 L385.2,396.1 L386.6,395.6 L388.1,395.2 L389.5,394.7 L390.9,394.3 L392.4,393.8 L393.8,393.4 L395.3,393.0 L396.7,392.7 L398.2,392.3 L399.6,391.9 L401.1,391.6 L402.5,391.3 L404.0,391.0 L405.5,390.7 L407.0,390.4 L408.5,390.2 L410.0,389.9 L411.4,389.7 L412.9,389.5 L414.4,389.3 L415.9,389.2 L417.5,389.0 L419.0,388.9 L420.5,388.8 L422.0,388.7 L423.5,388.6 L425.1,388.5 L426.6,388.5 L428.1,388.5 L429.7,388.5 L431.2,388.5 L432.8,388.5 L434.3,388.6 L435.9,388.6 L437.4,388.7 L439.0,388.8 L440.6,389.0 L442.1,389.1 L443.7,389.3 L445.3,389.5 L445.0,389.0 L446.5,389.2 L448.1,389.5 L449.7,389.8 L451.2,390.2 L452.7,390.6 L454.2,391.0 L455.7,391.5 L457.1,392.0 L458.6,392.6 L460.0,393.2 L461.4,393.8 L462.8,394.4 L464.2,395.1 L465.6,395.8 L466.9,396.6 L468.3,397.4 L469.6,398.1 L471.0,399.0 L472.3,399.8 L473.6,400.6 L474.9,401.5 L476.2,402.3 L477.5,403.2 L478.8,404.1 L480.1,405.0 L481.4,405.9 L482.7,406.8 L483.9,407.7 L485.2,408.6 L486.5,409.5 L487.8,410.4 L489.1,411.3 L490.4,412.2 L491.6,413.0 L492.9,413.9 L494.2,414.7 L495.5,415.6 L496.9,416.4" fill="none" stroke="#127012" stroke-width="2.2" stroke-dasharray="5 5"/>
<line x1="364" y1="572" x2="401.7" y2="572" stroke="#0505b0" stroke-width="2.2"/>
<line x1="364" y1="594" x2="378.3" y2="594" stroke="#c2001a" stroke-width="2.2"/>
<line x1="391.8" y1="594" x2="401.7" y2="594" stroke="#c2001a" stroke-width="2.2"/>
<line x1="364.3" y1="616.1" x2="369.5" y2="616.1" stroke="#127012" stroke-width="2.2"/>
<line x1="374.9" y1="616.1" x2="380.3" y2="616.1" stroke="#127012" stroke-width="2.2"/>
<line x1="385.9" y1="616.1" x2="391.1" y2="616.1" stroke="#127012" stroke-width="2.2"/>
<line x1="396.5" y1="616.1" x2="401.7" y2="616.1" stroke="#127012" stroke-width="2.2"/>
<text x="410.5" y="577.5" font-size="18.8" text-anchor="start" textLength="64.35" lengthAdjust="spacingAndGlyphs">STO-Si</text>
<text x="410.5" y="599.8" font-size="18.8" text-anchor="start" textLength="40.22" lengthAdjust="spacingAndGlyphs">STO</text>
<text x="410.5" y="622.1" font-size="18.8" text-anchor="start" textLength="17.55" lengthAdjust="spacingAndGlyphs">Si</text>
<text x="157.2" y="708.4" font-size="18.7" text-anchor="start" textLength="281" lengthAdjust="spacingAndGlyphs">Center Conductor Width 2s (<tspan font-family="Liberation Serif">µ</tspan>m)</text>
<text transform="translate(19.7,569.6) rotate(-90)" font-size="18.7"><tspan font-family="Liberation Serif" font-size="20">λ</tspan>/<tspan font-family="Liberation Serif" font-size="20">λ</tspan><tspan font-size="13" dy="4.5">fs</tspan><tspan dy="-4.5"> and v</tspan><tspan font-size="13" dy="4.5">p</tspan><tspan dy="-4.5">/c</tspan></text>
<text x="16.2" y="701.5" font-size="20.6" text-anchor="start">(b)</text>
</svg></body></html>
